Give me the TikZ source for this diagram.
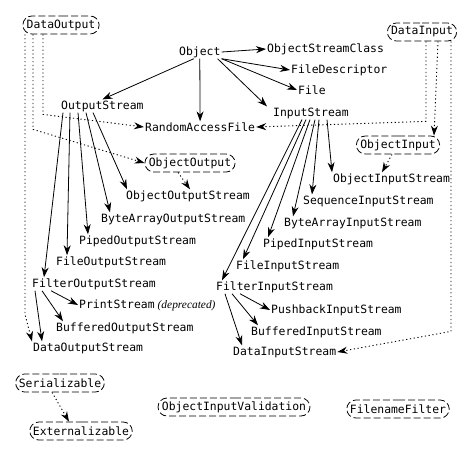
\documentclass[tikz,border=0pt]{standalone}
\usepackage{fontspec}
\setmonofont{DejaVu Sans Mono}
\newfontfamily\notefont{Liberation Serif}
\usetikzlibrary{arrows.meta,shapes.misc}
\tikzset{
  cls/.style={anchor=west, inner sep=1pt, font=\ttfamily\fontsize{11.4}{13}\selectfont},
  iface/.style={rounded rectangle, draw, line width=0.8pt, dash pattern=on 7pt off 3pt, inner xsep=2pt, minimum height=18pt, font=\ttfamily\fontsize{11.4}{13}\selectfont},
  inh/.style={-{Stealth[length=10pt,width=7pt]}, line width=0.8pt},
  impl/.style={inh, line width=0.9pt, dash pattern=on 1.2pt off 2.6pt}
}
\begin{document}
\begin{tikzpicture}[x=1pt,y=-1pt]
\useasboundingbox (0,0) rectangle (474,450);
\node[cls] (obj) at (178,52) {Object};
\node[cls] (osc) at (266,49) {ObjectStreamClass};
\node[cls] (fd) at (290,70) {FileDescriptor};
\node[cls] (file) at (297,90) {File};
\node[cls] (os) at (60,106) {OutputStream};
\node[cls] (is) at (272,113) {InputStream};
\node[cls] (raf) at (144,127) {RandomAccessFile};
\node[cls] (oos) at (125,196) {ObjectOutputStream};
\node[cls] (ois) at (332,179) {ObjectInputStream};
\node[cls] (sis) at (302,201) {SequenceInputStream};
\node[cls] (baos) at (100,219) {ByteArrayOutputStream};
\node[cls] (bais) at (283,223) {ByteArrayInputStream};
\node[cls] (pos) at (78,241) {PipedOutputStream};
\node[cls] (pis) at (262,244) {PipedInputStream};
\node[cls] (fos) at (55,262) {FileOutputStream};
\node[cls] (fis) at (235,266) {FileInputStream};
\node[cls] (fltos) at (31,284) {FilterOutputStream};
\node[cls] (fltis) at (215,287) {FilterInputStream};
\node[cls] (ps) at (78,305) {PrintStream\hspace{3pt}{\notefont\itshape(deprecated)}};
\node[cls] (pbis) at (270,310) {PushbackInputStream};
\node[cls] (bos) at (55,328) {BufferedOutputStream};
\node[cls] (bis) at (250,332) {BufferedInputStream};
\node[cls] (dos) at (32,348) {DataOutputStream};
\node[cls] (dis) at (232,352) {DataInputStream};
\node[iface] (dout) at (61,25) {DataOutput};
\node[iface] (din) at (422,32) {DataInput};
\node[iface] (oout) at (190,163) {ObjectOutput};
\node[iface] (oin) at (398,145) {ObjectInput};
\node[iface] (ser) at (60,383) {Serializable};
\node[iface] (ext) at (81,431) {Externalizable};
\node[iface] (oiv) at (234,407) {ObjectInputValidation};
\node[iface] (ff) at (398,409) {FilenameFilter};
\draw[inh] (obj.east) -- (osc.west);
\draw[inh] (obj.south east) -- (fd.west);
\draw[inh] (obj.south east) -- (file.west);
\draw[inh] ([xshift=-4pt]obj.south east) -- ([xshift=-5pt]is.north west);
\draw[inh] (obj.south) -- (raf.north);
\draw[inh] ([xshift=-6pt]obj.south) -- (os.north);
\foreach \t/\a/\b in {fltos/3/13, fos/10/12, pos/18/10, baos/26/10, oos/33/2}
  \draw[inh] ([xshift=\a pt]os.south west) -- ([xshift=\b pt]\t.north west);
\foreach \t/\a/\b in {fltis/30/7, fis/34/8, pis/38/6, bais/43/10, sis/47/10, ois/55/0}
  \draw[inh] ([xshift=\a pt]is.south west) -- ([xshift=\b pt]\t.north west);
\draw[inh] ([xshift=20pt]fltos.south west) -- (ps.west);
\draw[inh] ([xshift=11pt]fltos.south west) -- ([xshift=8pt]bos.north west);
\draw[inh] ([xshift=4pt]fltos.south west) -- ([xshift=10pt]dos.north west);
\draw[inh] ([xshift=25pt]fltis.south west) -- (pbis.west);
\draw[inh] ([xshift=17pt]fltis.south west) -- ([xshift=8pt]bis.north west);
\draw[inh] ([xshift=10pt]fltis.south west) -- ([xshift=10pt]dis.north west);
\draw[impl] ([xshift=-18pt]dout.south) -- ++(0,80) -- (raf.west);
\draw[impl] ([xshift=-28pt]dout.south) -- ++(0,95) -- (oout.west);
\draw[impl] ([xshift=-36pt]dout.south) -- ++(0,280) -- (dos.north west);
\draw[impl] ([xshift=4pt]din.south) -- ++(0,80) -- (raf.east);
\draw[impl] ([xshift=16pt]din.south) -- ([xshift=36pt]oin.north);
\draw[impl] ([xshift=29pt]din.south) -- ++(0,290) -- (dis.east);
\draw[impl] ([xshift=-12pt]oout.south) -- ([xshift=65pt]oos.north west);
\draw[impl] ([xshift=-6pt]oin.south) -- ([xshift=50pt]ois.north west);
\draw[impl] ([xshift=-8pt]ser.south) -- ([xshift=-12pt]ext.north);
\end{tikzpicture}
\end{document}
